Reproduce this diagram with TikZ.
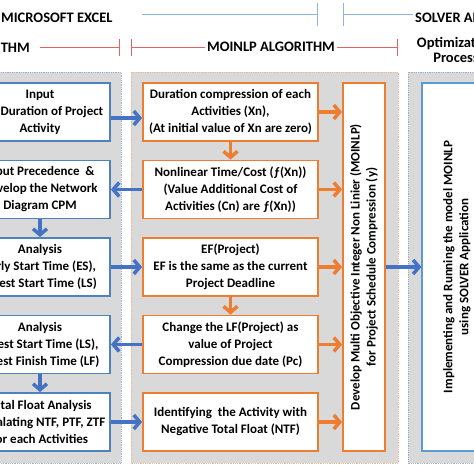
\documentclass[tikz,border=0pt]{standalone}
\usepackage{fontspec}
\setmainfont{Carlito}
\usetikzlibrary{arrows.meta,calc,positioning}
\definecolor{boxblue}{RGB}{79,129,189}
\definecolor{arrblue}{RGB}{68,114,196}
\definecolor{boxorange}{RGB}{237,125,49}
\definecolor{panelgray}{RGB}{217,217,217}
\definecolor{panelblueline}{RGB}{160,180,205}
\definecolor{panelorangeline}{RGB}{240,185,145}
\definecolor{lineblue}{RGB}{140,180,220}
\definecolor{linered}{RGB}{225,100,100}
\definecolor{rightblue}{RGB}{91,155,213}

\begin{document}
\begin{tikzpicture}[x=1pt,y=-1pt,
    head/.style={font=\bfseries\fontsize{14.5}{15}\selectfont, inner ysep=0pt, inner xsep=2pt},
    panel/.style={fill=panelgray, draw=#1, densely dotted, line width=0.8pt},
    cpmbox/.style={draw=boxblue, line width=1.8pt, fill=white, minimum width=140, minimum height=58, align=center, font=\bfseries\fontsize{13}{17}\selectfont, inner sep=0pt},
    algbox/.style={cpmbox, draw=boxorange, minimum width=175},
    vtext/.style={rotate=90, align=center, font=\bfseries\fontsize{13}{16}\selectfont},
    bluearr/.style={draw=arrblue, line width=3.5pt, -{Straight Barb[length=6pt,width=14pt]}},
    orangearr/.style={bluearr, draw=boxorange},
    excelline/.style={draw=lineblue, line width=1pt},
    algline/.style={draw=linered, line width=1pt}]
            \useasboundingbox (0,0) rectangle (474,474);
            \clip (0,0) rectangle (474,474);
            % panels
            \path[panel=panelblueline] (-40,72) rectangle (121,463);
            \path[panel=panelorangeline] (131,72) rectangle (398,463);
            \path[panel=panelblueline] (408,72) rectangle (502,463);
            % CPM column
            \node[cpmbox] at (40,112) (c1) {Input\\\hspace*{24pt}Duration of Project\\Activity};
            \node[cpmbox] at ($(c1)+(0,77.5)$) (c2) {Input Precedence \ \&\\Develop the Network\\Diagram CPM};
            \node[cpmbox] at ($(c2)+(0,77.5)$) (c3) {Analysis\\Early Start Time (ES),\\Latest Start Time (LS)};
            \node[cpmbox] at ($(c3)+(0,77.5)$) (c4) {Analysis\\Latest Start Time (LS),\\Latest Finish Time (LF)};
            \node[cpmbox] at ($(c4)+(0,77.5)$) (c5) {Total Float Analysis\\Calcalating NTF, PTF, ZTF\\for each Activities};
            % MOINLP column
            \node[algbox] at (230.5,112) (m1) {Duration compression of each\\Activities (Xn),\\(At initial value of Xn are zero)};
            \node[algbox] at ($(m1)+(0,77.5)$) (m2) {Nonlinear Time/Cost (ƒ(Xn))\\(Value Additional Cost of\\Activities (Cn) are ƒ(Xn))};
            \node[algbox] at ($(m2)+(0,77.5)$) (m3) {EF(Project)\\EF is the same as the current\\Project Deadline};
            \node[algbox] at ($(m3)+(0,77.5)$) (m4) {Change the LF(Project) as\\value of Project\\Compression due date (Pc)};
            \node[algbox] at ($(m4)+(0,77.5)$) (m5) {Identifying \ the Activity with\\Negative Total Float (NTF)};
            \node[draw=boxorange, line width=1.8pt, fill=white, minimum width=42, minimum height=368] at (364,267) (v) {};
            \node[vtext] at (v) (vlabel) {Develop Multi Objective Integer Non Linier (MOINLP)\\for Project Schedule Compression (y)};
            % solver column
            \node[draw=rightblue, line width=1.2pt, fill=white, minimum width=66, minimum height=368] at (455,267) (r) {};
            \node[vtext] at ($(r)+(2,0)$) (rlabel) {Implementing and Running the model MOINLP\\using SOLVER Application};
            % arrows
            \draw[bluearr] ([yshift=-6]c1.east) -- ([yshift=-6]c1.east -| m1.west);
            \draw[bluearr] (m2.west) -- (c2.east);
            \draw[bluearr] (c3.east) -- (m3.west);
            \draw[bluearr] (m4.west) -- (c4.east);
            \draw[bluearr] (c5.east) -- (m5.west);
            \draw[bluearr] (c2.south) -- (c3.north);
            \draw[bluearr] (c4.south) -- (c5.north);
            \draw[orangearr] (m1.south) -- (m2.north);
            \draw[orangearr] (m3.south) -- (m4.north);
            \foreach \n in {1,...,5}
            \draw[orangearr] (m\n.east) -- (m\n.east -| v.west);
            \draw[bluearr] (v.east) -- (r.west);
            % headings
            \node[head, anchor=base west] at (-1,22) (excel) {MICROSOFT EXCEL};
            \coordinate (ex1) at (142,14);
            \coordinate (ex2) at (318,14);
            \draw[excelline, -{Bar[width=23pt]}] (ex1) -- (ex2);
            \node[head, anchor=base west] at (413,22) (solver) {SOLVER APPLICATION};
            \coordinate (sv1) at (343,14);
            \draw[excelline, {Bar[width=23pt]}-] (sv1) -- (sv1 -| solver.west);
            \node[head, anchor=base east] at (32,52) (cpmalg) {ALGORITHM};
            \coordinate (al1) at (40,47);
            \coordinate (al2) at (120,47);
            \draw[algline, -{Bar[width=17pt]}] (al1) -- (al2);
            \node[head] at (271,47) (moinlp) {MOINLP ALGORITHM};
            \coordinate (al3) at (131,47);
            \coordinate (al4) at (398,47);
            \draw[algline, {Bar[width=17pt]}-] (al3) -- (moinlp.west);
            \draw[algline, -{Bar[width=17pt]}] (moinlp.east) -- (al4);
            \node[head, align=center] at (456,50) (optim) {Optimization\\Process};
        \end{tikzpicture}
\end{document}
